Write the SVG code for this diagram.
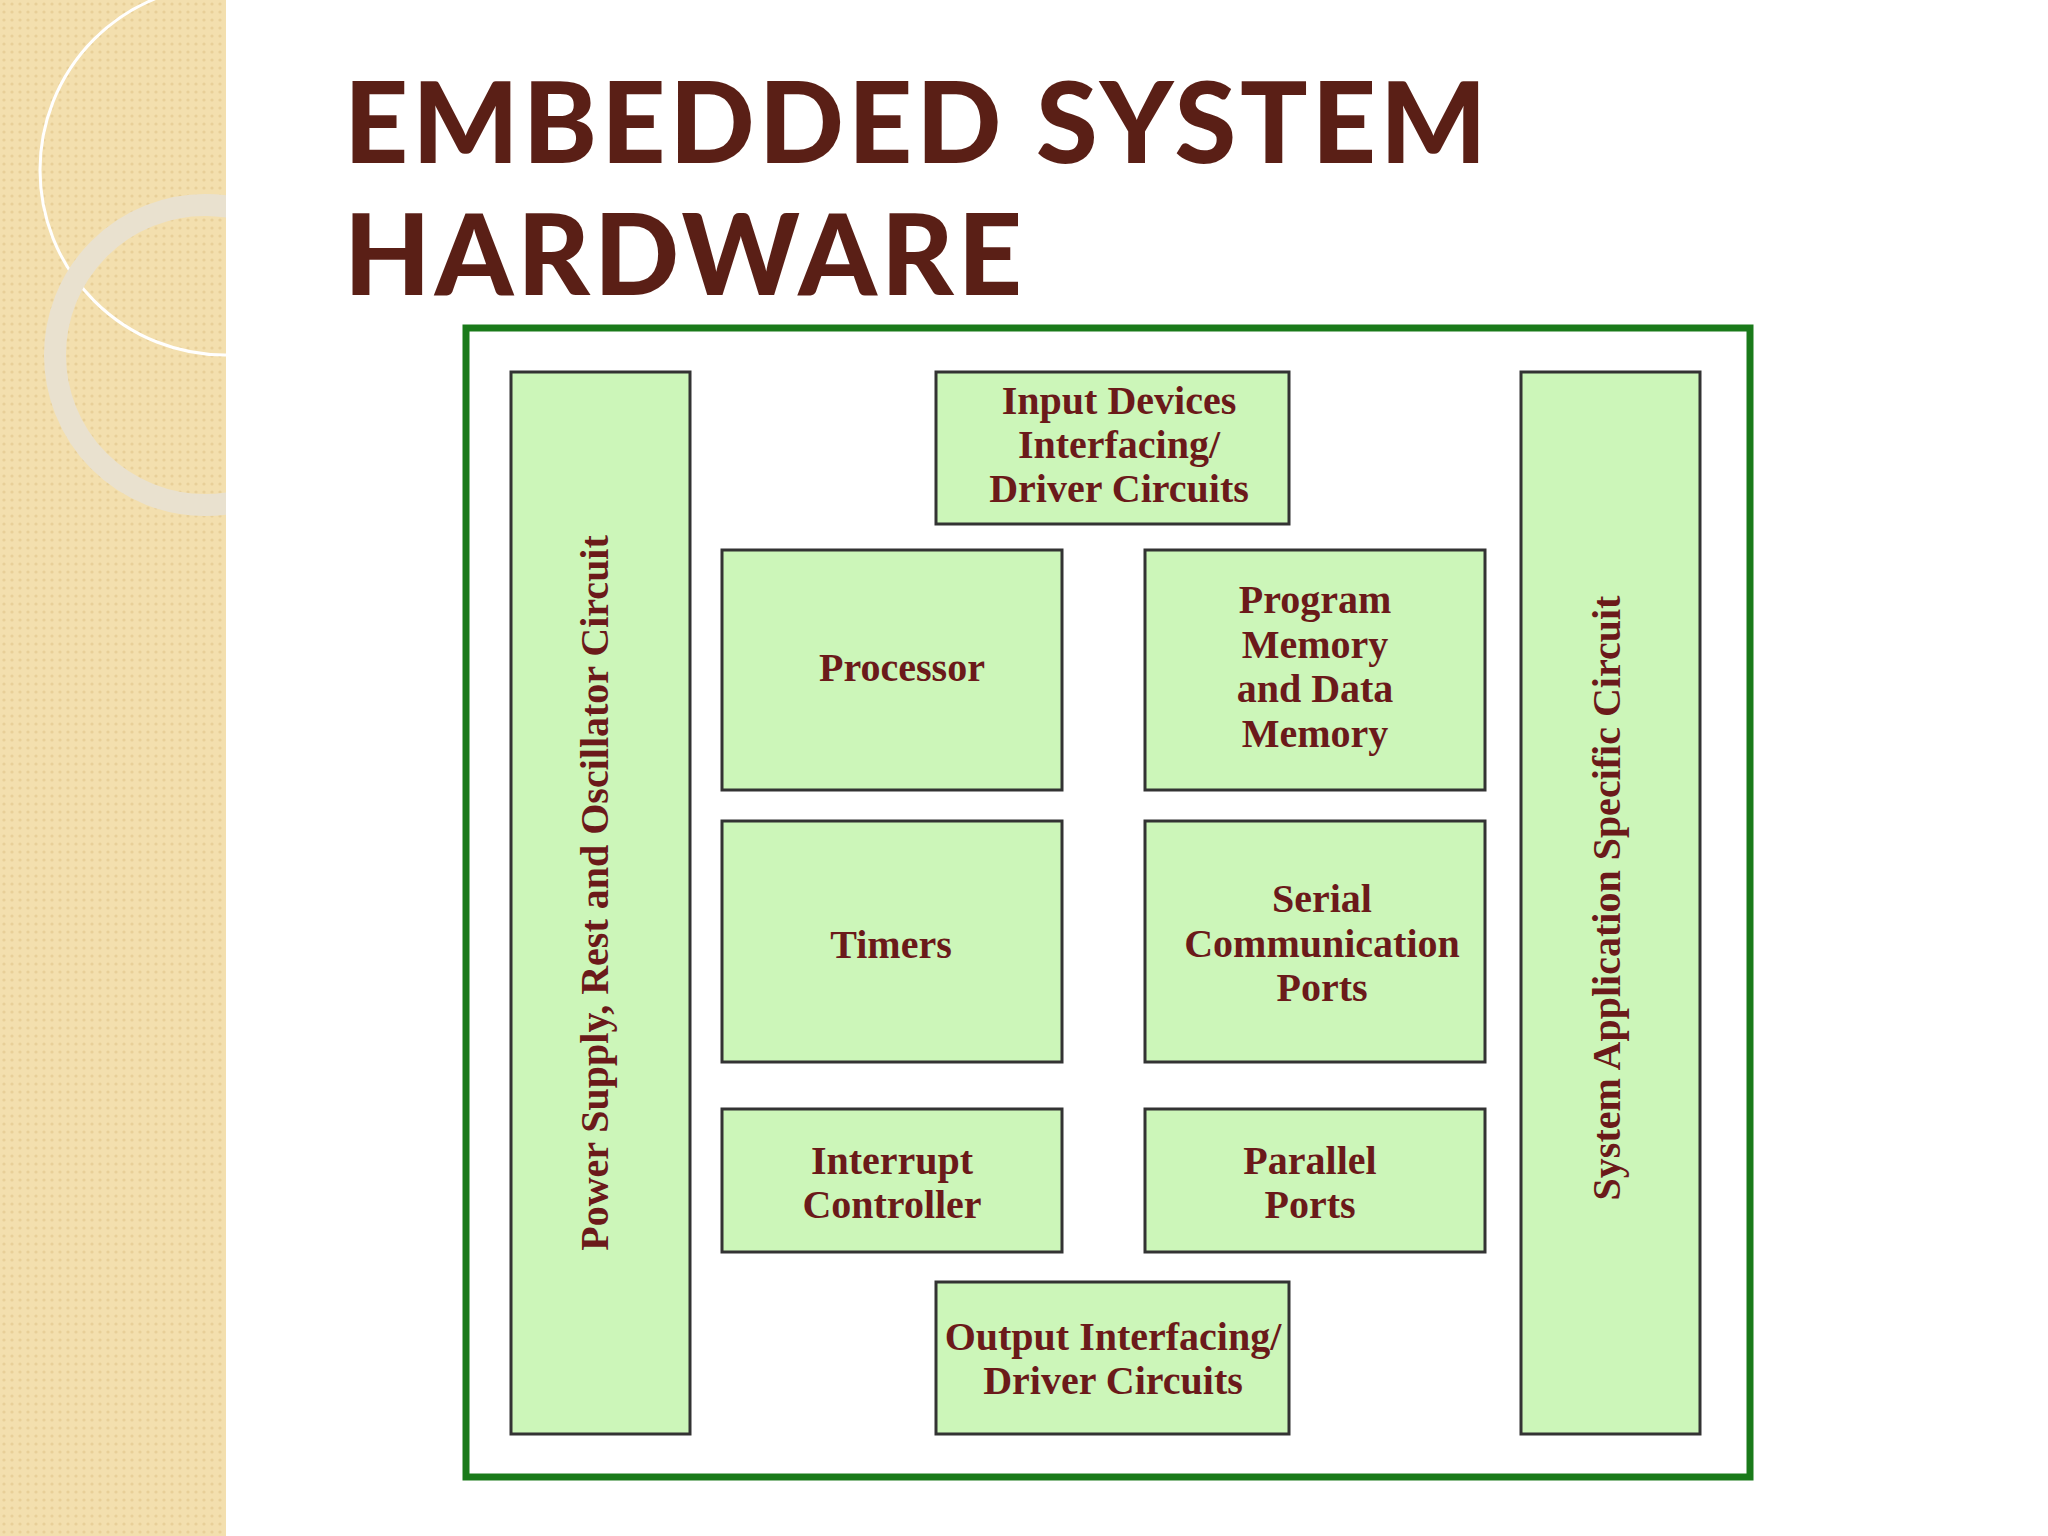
<svg xmlns="http://www.w3.org/2000/svg" width="2048" height="1536" viewBox="0 0 2048 1536">
<defs>
<pattern id="dots" width="8" height="8" patternUnits="userSpaceOnUse"><rect width="8" height="8" fill="#f3dfae"/><circle cx="4" cy="4" r="1.6" fill="#e8cf98"/></pattern>
<clipPath id="strip"><rect x="0" y="0" width="226" height="1536"/></clipPath>
</defs>
<style>
.box{fill:#ccf6b9;stroke:#333;stroke-width:3}
.t{font-family:"Liberation Serif",serif;font-weight:bold;font-size:40px;fill:#6b1a1a;text-anchor:middle;dominant-baseline:central}
.h{font-family:"Lato","Open Sans",sans-serif;font-weight:900;font-size:112px;letter-spacing:4px;fill:#5a1f16}
</style>
<rect width="2048" height="1536" fill="#fff"/>
<rect x="0" y="0" width="226" height="1536" fill="url(#dots)"/>
<g fill="none" clip-path="url(#strip)">
<circle cx="225" cy="170" r="185" stroke-width="3" stroke="#fff"/>
<circle cx="205" cy="355" r="150" stroke-width="22" stroke="#e9e1cf"/>
</g>
<text class="h" x="344" y="163">EMBEDDED SYSTEM</text>
<text class="h" x="344" y="295">HARDWARE</text>
<rect x="466" y="328" width="1284" height="1149" fill="#fff" stroke="#1a7a1a" stroke-width="7"/>
<g id="power"><rect class="box" x="511" y="372" width="179" height="1062"/><text class="t" transform="translate(594,893) rotate(-90)">Power Supply, Rest and Oscillator Circuit</text></g>
<g id="system"><rect class="box" x="1521" y="372" width="179" height="1062"/><text class="t" transform="translate(1606,898) rotate(-90)">System Application Specific Circuit</text></g>
<g id="input"><rect class="box" x="936" y="372" width="353" height="152"/><text class="t" x="1119" y="400">Input Devices</text><text class="t" x="1119" y="444">Interfacing/</text><text class="t" x="1119" y="488">Driver Circuits</text></g>
<g id="processor"><rect class="box" x="722" y="550" width="340" height="240"/><text class="t" x="902" y="667">Processor</text></g>
<g id="memory"><rect class="box" x="1145" y="550" width="340" height="240"/><text class="t" x="1315" y="599">Program</text><text class="t" x="1315" y="644">Memory</text><text class="t" x="1315" y="688">and Data</text><text class="t" x="1315" y="733">Memory</text></g>
<g id="timers"><rect class="box" x="722" y="821" width="340" height="241"/><text class="t" x="891" y="944">Timers</text></g>
<g id="serial"><rect class="box" x="1145" y="821" width="340" height="241"/><text class="t" x="1322" y="898">Serial</text><text class="t" x="1322" y="943">Communication</text><text class="t" x="1322" y="987">Ports</text></g>
<g id="interrupt"><rect class="box" x="722" y="1109" width="340" height="143"/><text class="t" x="892" y="1160">Interrupt</text><text class="t" x="892" y="1204">Controller</text></g>
<g id="parallel"><rect class="box" x="1145" y="1109" width="340" height="143"/><text class="t" x="1310" y="1160">Parallel</text><text class="t" x="1310" y="1204">Ports</text></g>
<g id="output"><rect class="box" x="936" y="1282" width="353" height="152"/><text class="t" x="1113" y="1336">Output Interfacing/</text><text class="t" x="1113" y="1380">Driver Circuits</text></g>
<g id="connectors"></g>
</svg>
